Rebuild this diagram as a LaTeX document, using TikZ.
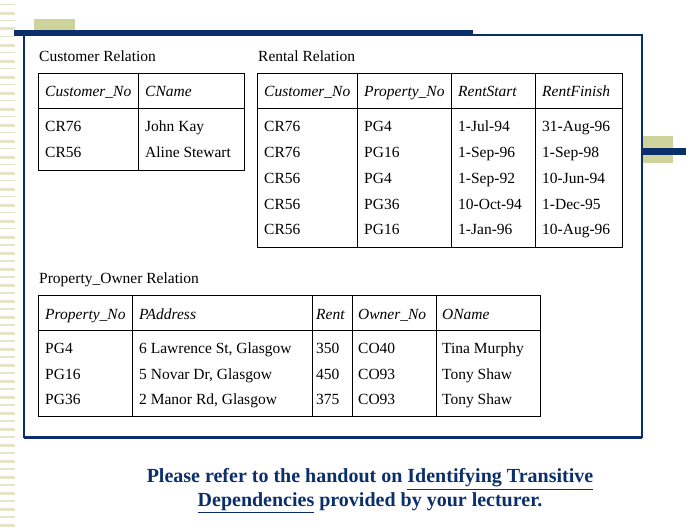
\documentclass[tikz,border=0pt]{standalone}
\usepackage{fontspec}
\setmainfont{Liberation Serif}
\definecolor{navy}{HTML}{0B2F6B}
\definecolor{olive}{HTML}{CDD39A}
\definecolor{pale}{HTML}{E4E4C8}
\begin{document}
\begin{tikzpicture}[x=1pt,y=-1pt,
  t/.style={anchor=base west,font=\fontsize{15.5}{18}\selectfont,inner sep=0pt,yshift=-5pt},
  h/.style={anchor=base west,font=\fontsize{15.5}{18}\selectfont\itshape,inner sep=0pt,yshift=-5pt},
  tab/.style={draw=black,line width=0.9pt}]
\useasboundingbox (0,0) rectangle (686,532);
% stripes
\foreach \y/\w in {4/1,12/2,20/1,27/2,36/1,44/2,52/1,60/2,68/1,76/2,84/1,92/2,100/1,108/2,116/1,124/2,132/1,140/2,148/1,156/2,164/1,172/2,180/1,188/2,196/1,204/2,212/1,220/2,228/1,236/2,244/1,252/2,260/1,268/2,276/1,284/2,292/1,300/2,308/1,316/2,324/1,332/2,340/1,348/2,356/1,364/2,372/1,380/2,388/1,396/2,404/1,412/2,420/1,428/2,436/1,444/2,452/1,460/2,468/1,476/2,484/1,492/2,500/1,508/2,516/1,524/2}
  \fill[pale] (0,\y) rectangle (15,\y+\w*1.5);
% decorations
\fill[olive] (34,19) rectangle (75,30);
\fill[navy] (14,30) rectangle (473,36);
\draw[navy,line width=2pt] (642,35) -- (23.5,35) -- (23.5,437) -- (642,437) -- cycle;
\draw[navy,line width=3pt] (23.5,437) -- (642,437);
\fill[olive] (643,136) rectangle (673,163);
\fill[navy] (643,148) rectangle (686,155);
% Customer
\node[t] (ct) at (39,57) {Customer Relation};
\draw[tab] (38,73) rectangle (244,170);
\draw[tab] (38,108) -- (244,108) (138,73) -- (138,170);
\node[h] at (45,92) {Customer\_No};
\node[h] at (145,92) {CName};
\foreach \a/\b [count=\i] in {CR76/John Kay,CR56/Aline Stewart}{
  \node[t] at (45,101+\i*26) {\a};
  \node[t] at (145,101+\i*26) {\b};}
% Rental
\node[t] (rt) at (258,57) {Rental Relation};
\draw[tab] (257,73) rectangle (622,247);
\draw[tab] (257,108) -- (622,108) (357,73) -- (357,247) (451,73) -- (451,247) (535,73) -- (535,247);
\node[h] at (264,92) {Customer\_No};
\node[h] at (364,92) {Property\_No};
\node[h] at (458,92) {RentStart};
\node[h] at (542,92) {RentFinish};
\foreach \a/\b/\c/\d [count=\i] in {CR76/PG4/1-Jul-94/31-Aug-96,CR76/PG16/1-Sep-96/1-Sep-98,CR56/PG4/1-Sep-92/10-Jun-94,CR56/PG36/10-Oct-94/1-Dec-95,CR56/PG16/1-Jan-96/10-Aug-96}{
  \node[t] at (264,101+\i*25.8) {\a};
  \node[t] at (364,101+\i*25.8) {\b};
  \node[t] at (458,101+\i*25.8) {\c};
  \node[t] at (542,101+\i*25.8) {\d};}
% Property owner
\node[t] (pt) at (39,278) {Property\_Owner Relation};
\draw[tab] (38,295) rectangle (540,416);
\draw[tab] (38,330) -- (540,330) (132,295) -- (132,416) (312,295) -- (312,416) (352,295) -- (352,416) (436,295) -- (436,416);
\node[h] at (45,314) {Property\_No};
\node[h] at (139,314) {PAddress};
\node[h] at (316,314) {Rent};
\node[h] at (358,314) {Owner\_No};
\node[h] at (442,314) {OName};
\foreach \a/\b/\c/\d/\e [count=\i] in {PG4/6 Lawrence St{,} Glasgow/350/CO40/Tina Murphy,PG16/5 Novar Dr{,} Glasgow/450/CO93/Tony Shaw,PG36/2 Manor Rd{,} Glasgow/375/CO93/Tony Shaw}{
  \node[t] at (45,323+\i*25.5) {\a};
  \node[t] at (139,323+\i*25.5) {\b};
  \node[t] at (316,323+\i*25.5) {\c};
  \node[t] at (358,323+\i*25.5) {\d};
  \node[t] at (442,323+\i*25.5) {\e};}
% bottom text
\node[font=\fontsize{20}{24}\selectfont\bfseries,text=navy,align=center,inner sep=0pt] (note) at (370,491)
  {Please refer to the handout on \underline{Identifying Transitive}\\ \underline{Dependencies} provided by your lecturer.};
\end{tikzpicture}
\end{document}
